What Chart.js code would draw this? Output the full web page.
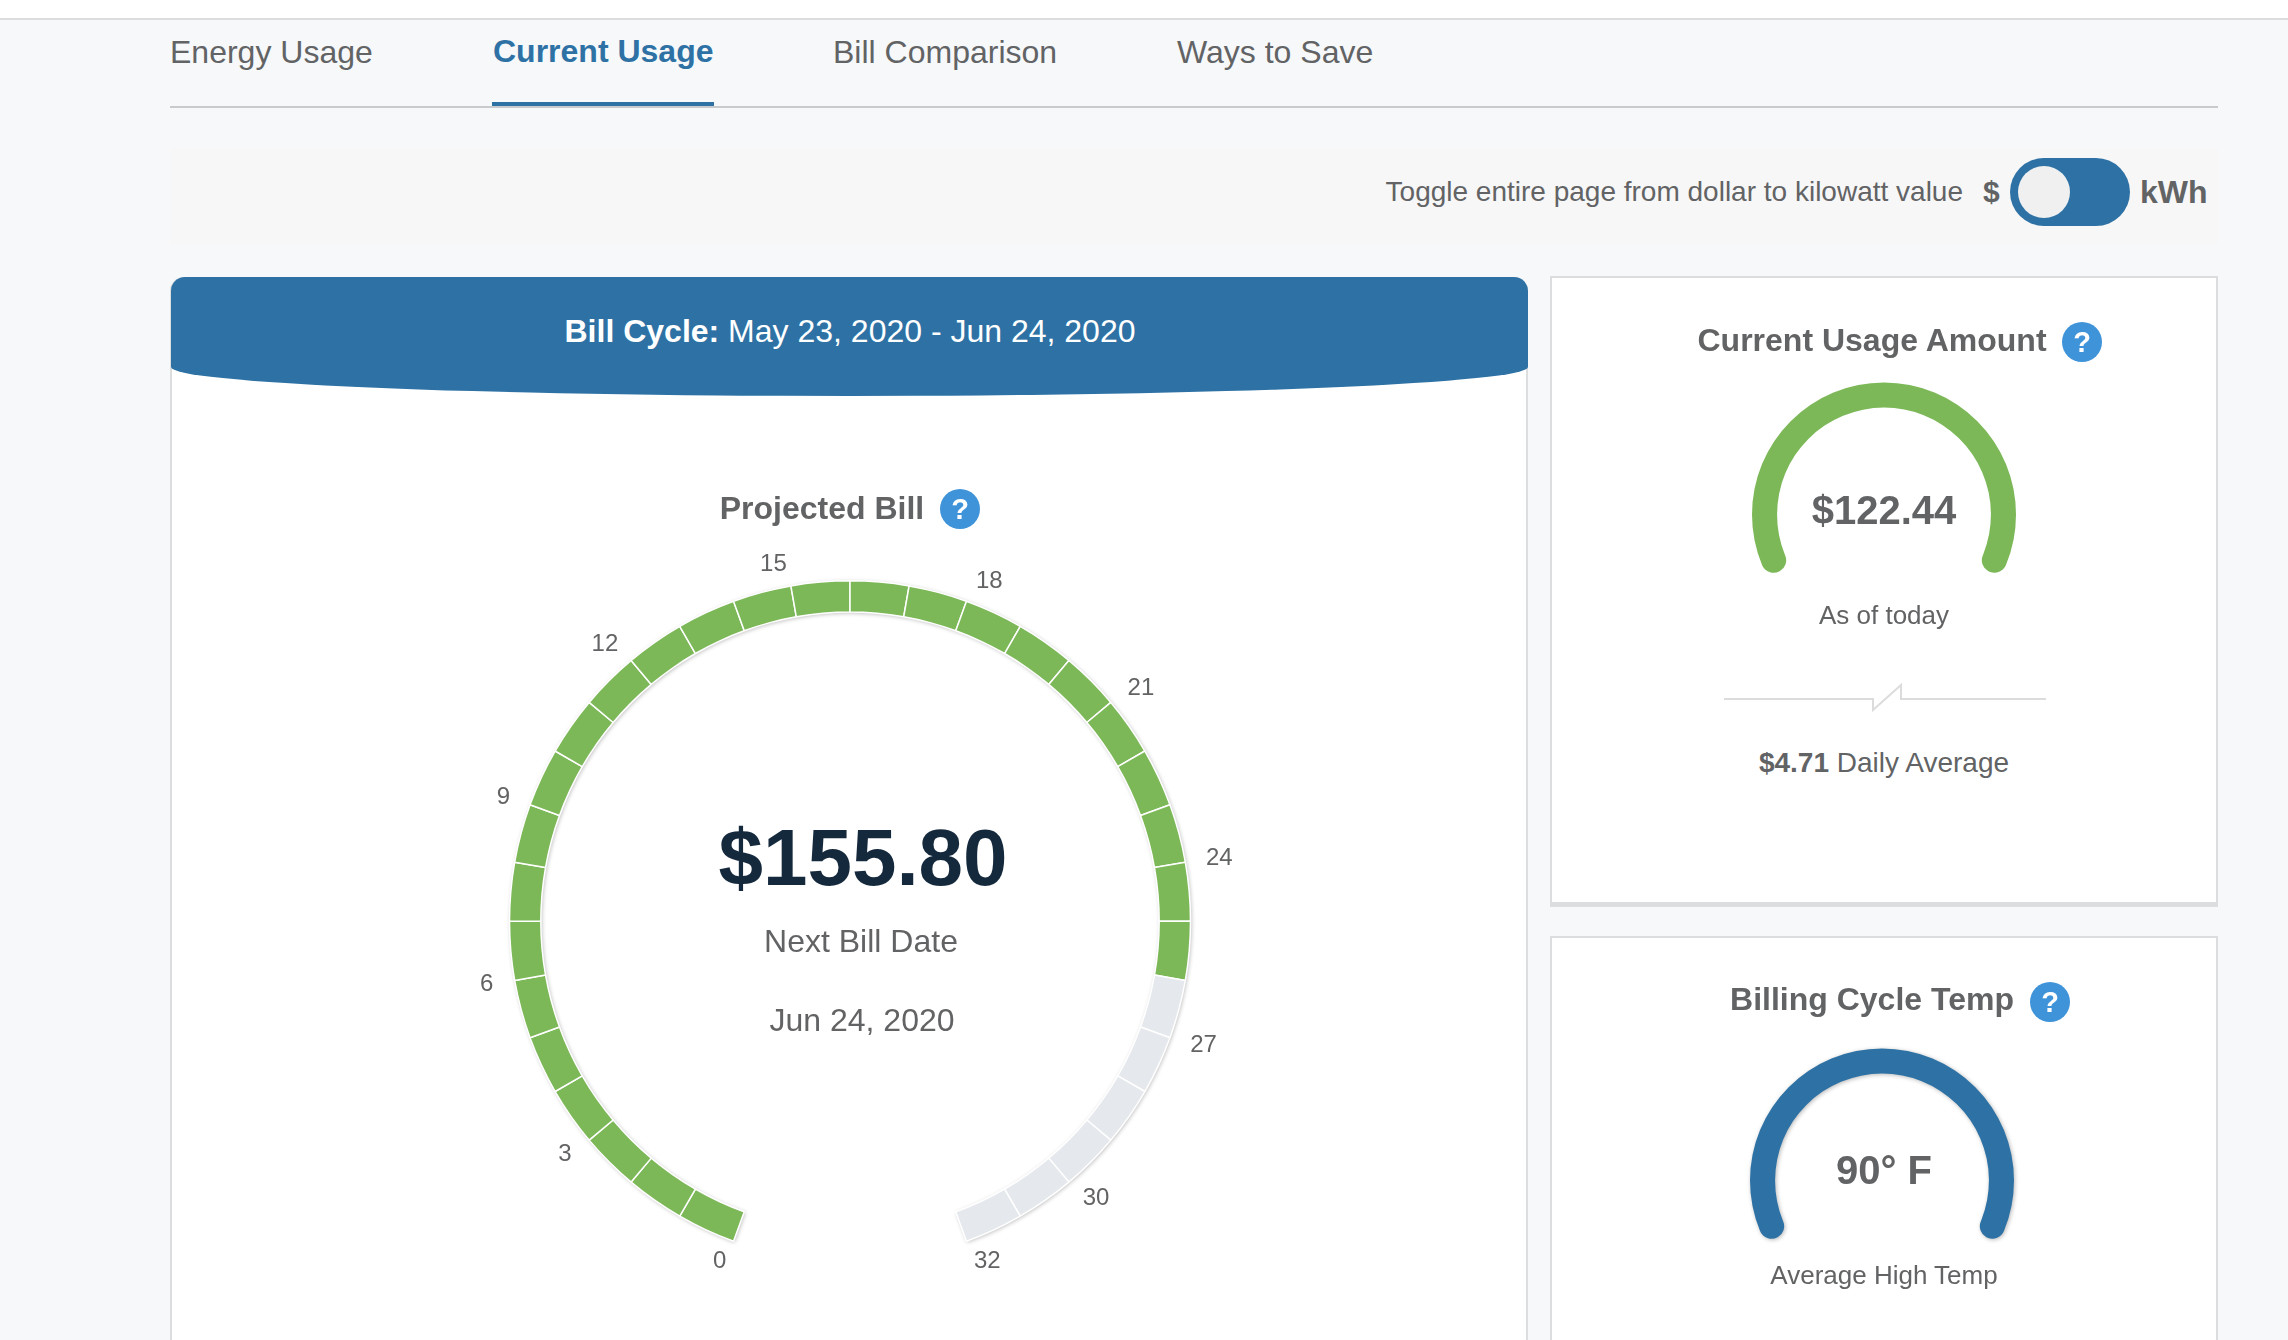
<!DOCTYPE html>
<html>
<head>
<meta charset="utf-8">
<title>Current Usage</title>
<script src="https://cdn.jsdelivr.net/npm/chart.js@4"></script>
<style>
html,body{margin:0;padding:0;background:#f6f8fa;}
#page{position:relative;width:2288px;height:1340px;overflow:hidden;background:#f6f8fa;font-family:"Liberation Sans",Arial,sans-serif;color:#626365;}
#page div,#page span,#page canvas,#page svg{position:absolute;}
.lbl{line-height:0;white-space:nowrap;}
.lbl b{position:static;}
#topstrip{left:0;top:0;width:2288px;height:18px;background:#fff;border-bottom:2px solid #dcdddf;}
#tabline{left:170px;top:106px;width:2048px;height:2px;background:#c8cacd;}
#tabactive{left:492px;top:102px;width:222px;height:4px;background:#2e72a5;}
#togglebar{left:170px;top:148px;width:2048px;height:97px;background:#f7f7f7;}
#switch{left:2010px;top:158px;width:120px;height:68px;border-radius:34px;background:#2e72a5;}
#knob{left:8px;top:8px;width:52px;height:52px;border-radius:26px;background:#f0f0f0;}
#maincard{left:170px;top:277px;width:1358px;height:1080px;background:#fff;border:2px solid #dcdddf;border-radius:14px 14px 0 0;box-sizing:border-box;}
#billhead{left:171px;top:277px;width:1357px;height:119px;background:#2e72a5;border-radius:14px 14px 50% 50% / 14px 14px 29px 29px;}
.card{left:1550px;width:668px;background:#fff;border:2px solid #dcdddf;box-sizing:border-box;}
#card1{top:276px;height:631px;border-bottom-width:5px;}
#card2{top:936px;height:440px;}
.help{width:40px;height:40px;border-radius:20px;background:#3e93d9;color:#fff;font-weight:bold;font-size:29px;line-height:40px;text-align:center;}
</style>
</head>
<body>
<div id="page">
<div id="topstrip"></div>
<div id="tabline"></div>
<div id="tabactive"></div>
<div id="togglebar"></div>
<div id="switch"><div id="knob"></div></div>
<div id="maincard"></div>
<div id="billhead"></div>
<div class="card" id="card1"></div>
<div class="card" id="card2"></div>
<svg style="left:1720px;top:680px" width="330" height="35">
<polyline points="4,19 153,19 153,30 181,5 181,19 326,19" fill="none" stroke="#dcdcdc" stroke-width="2"/>
</svg>
<canvas id="billGauge" width="820" height="820"></canvas>
<canvas id="usageGauge" width="300" height="300"></canvas>
<canvas id="tempGauge" width="300" height="300"></canvas>
</div>

<script>
/* ================= DATA ================= */
const billDays=[1,2,3,4,5,6,7,8,9,10,11,12,13,14,15,16,17,18,19,20,21,22,23,24,25,26,27,28,29,30,31,32];
const dayUnits=[1,1,1,1,1,1,1,1,1,1,1,1,1,1,1,1,1,1,1,1,1,1,1,1,1,1,1,1,1,1,1,1];
const daysElapsed=26;
const tickDays=[0,3,6,9,12,15,18,21,24,27,30,32];
const tickLabels=["0","3","6","9","12","15","18","21","24","27","30","32"];
const usageAmount=[122.44];
const avgHighTemp=[90];

const GREEN="#7cb858";
const GREY="#e5e8ec";
const BLUE="#2e72a5";

/* the source labels drift a little off their boundaries */
const tickLabelDriftX=[-3,0,3,3,-6,-12,12,6,3,4,7,10];

const page=document.getElementById("page");

/* ================= TEXT ================= */
function label(html,x,base,size,opts){
opts=opts||{};
const el=document.createElement("span");
el.className="lbl";
el.innerHTML=html;
el.style.left=x+"px";
el.style.top=(base-0.3465*size)+"px";
el.style.fontSize=size+"px";
if(opts.bold) el.style.fontWeight="bold";
if(opts.color) el.style.color=opts.color;
if(opts.center) el.style.transform="translateX(-50%)";
if(opts.right) el.style.transform="translateX(-100%)";
page.appendChild(el);
}

function help(cx,cy){
const el=document.createElement("div");
el.className="help";
el.textContent="?";
el.style.left=(cx-20)+"px";
el.style.top=(cy-20)+"px";
page.appendChild(el);
}

/* tabs */
label("Energy Usage",170,63.5,32);
label("Current Usage",493,62.5,32,{bold:true,color:BLUE});
label("Bill Comparison",833,63.5,32);
label("Ways to Save",1177,63.5,32);

/* toggle row */
label("Toggle entire page from dollar to kilowatt value",1963,202,28,{right:true});
label("$",1983,202,30,{bold:true});
label("kWh",2140,203,32,{bold:true});

/* main card */
label("<b>Bill Cycle:</b> May 23, 2020 - Jun 24, 2020",850,342,32,{center:true,color:"#fff"});
label("Projected Bill",822,519,32,{bold:true,center:true});
help(960,509);
label("$155.80",863,886,80,{bold:true,center:true,color:"#15293d"});
label("Next Bill Date",861,952,32,{center:true});
label("Jun 24, 2020",862,1031,32,{center:true});

/* right cards */
label("Current Usage Amount",1872,351,32,{bold:true,center:true});
help(2082,342);
label("$122.44",1884,524,40,{bold:true,center:true});
label("As of today",1884,624,26,{center:true});
label("<b>$4.71</b> Daily Average",1884,772.5,28,{center:true});
label("Billing Cycle Temp",1872,1010,32,{bold:true,center:true});
help(2050,1002);
label("90° F",1884,1183.5,40,{bold:true,center:true});
label("Average High Temp",1884,1284,26,{center:true});

/* ================= PLUGINS ================= */
function setShadow(ctx){
ctx.shadowColor="rgba(0,0,0,.28)";
ctx.shadowBlur=4;
ctx.shadowOffsetX=1;
ctx.shadowOffsetY=1;
}

/* white ring under the segments, so only the outer silhouette casts a shadow */
const ringShadow={
id:"ringShadow",
beforeDatasetsDraw(chart){
const arcs=chart.getDatasetMeta(0).data;
const first=arcs[0];
const last=arcs[arcs.length-1];
const ctx=chart.ctx;
ctx.save();
setShadow(ctx);
ctx.fillStyle="#fff";
ctx.beginPath();
ctx.arc(first.x,first.y,first.outerRadius,first.startAngle,last.endAngle);
ctx.arc(first.x,first.y,first.innerRadius,last.endAngle,first.startAngle,true);
ctx.closePath();
ctx.fill();
ctx.restore();
}
};

const softShadow={
id:"softShadow",
beforeDatasetsDraw(chart){
chart.ctx.save();
setShadow(chart.ctx);
},
afterDatasetsDraw(chart){
chart.ctx.restore();
}
};

/* day numbers sit outside the ring at the segment boundaries */
const dayTicks={
id:"dayTicks",
afterDraw(chart){
const arcs=chart.getDatasetMeta(0).data;
const ctx=chart.ctx;
ctx.save();
ctx.font="24px 'Liberation Sans'";
ctx.fillStyle="#626365";
ctx.textAlign="center";
ctx.textBaseline="middle";
tickDays.forEach((d,i)=>{
const angle=d<arcs.length?arcs[d].startAngle:arcs[arcs.length-1].endAngle;
ctx.fillText(
tickLabels[i],
arcs[0].x+Math.cos(angle)*372+tickLabelDriftX[i],
arcs[0].y+Math.sin(angle)*362
);
});
ctx.restore();
}
};

/* moves a canvas so the ring centre lands on cx,cy */
function placeAt(chart,cx,cy){
const arc=chart.getDatasetMeta(0).data[0];
chart.canvas.style.left=(cx-arc.x)+"px";
chart.canvas.style.top=(cy-arc.y)+"px";
}

/* ================= BILL GAUGE ================= */
const billChart=new Chart(
document.getElementById("billGauge"),
{
type:"doughnut",
data:{
labels:billDays,
datasets:[{
data:dayUnits,
backgroundColor:billDays.map(d=>d<=daysElapsed?GREEN:GREY),
borderColor:"#fff",
borderWidth:1.5
}]
},
options:{
responsive:false,
animation:false,
rotation:-160,
circumference:320,
radius:340.5,
cutout:"90.8%",
plugins:{legend:{display:false},tooltip:{enabled:false}}
},
plugins:[ringShadow,dayTicks]
}
);
placeAt(billChart,850,921);

/* ================= SMALL GAUGES ================= */
function smallGauge(id,values,color,plugins){
return new Chart(
document.getElementById(id),
{
type:"doughnut",
data:{
labels:[id],
datasets:[{
data:values,
backgroundColor:color,
borderWidth:0,
borderRadius:12.5
}]
},
options:{
responsive:false,
animation:false,
rotation:-118.5,
circumference:237,
radius:132,
cutout:"81%",
plugins:{legend:{display:false},tooltip:{enabled:false}}
},
plugins:plugins
}
);
}

placeAt(smallGauge("usageGauge",usageAmount,GREEN,[]),1884,514.5);
placeAt(smallGauge("tempGauge",avgHighTemp,BLUE,[softShadow]),1882,1181);
</script>
</body>
</html>
